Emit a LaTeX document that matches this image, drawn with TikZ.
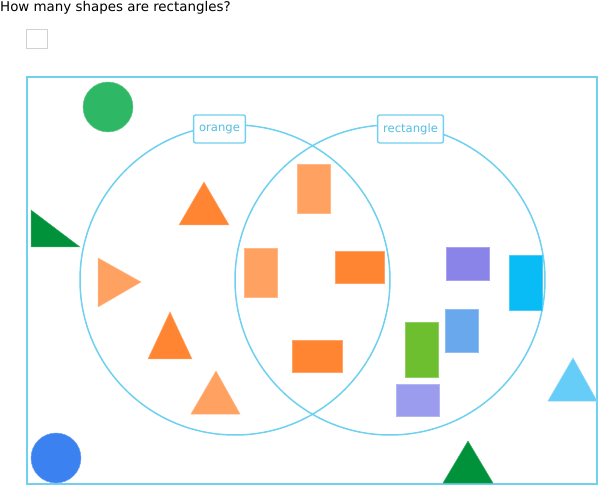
\documentclass[tikz,border=0pt]{standalone}
\usepackage{fontspec}
\setmainfont{DejaVu Sans}
\usepackage{xcolor}
\usetikzlibrary{positioning}
\definecolor{vennblue}{RGB}{112,208,240}
\definecolor{labelblue}{RGB}{84,190,226}
\definecolor{orngdark}{RGB}{255,133,51}
\definecolor{ornglight}{RGB}{255,161,96}
\definecolor{grndark}{RGB}{0,146,58}
\definecolor{grnmid}{RGB}{46,184,101}
\definecolor{grnlime}{RGB}{109,191,48}
\definecolor{bluedot}{RGB}{59,130,240}
\definecolor{purpl}{RGB}{138,132,232}
\definecolor{lavndr}{RGB}{156,156,238}
\definecolor{skyrect}{RGB}{10,188,245}
\definecolor{paleblue}{RGB}{106,168,238}
\definecolor{cyantri}{RGB}{102,204,248}

\begin{document}
\begin{tikzpicture}[x=1pt,y=-1pt,
  venn/.style={draw=vennblue,line width=1.5pt},
  setlabel/.style={draw=vennblue,fill=white,rounded corners=2pt,line width=1.4pt,
    text=labelblue,font=\fontsize{11.6}{13}\selectfont,inner xsep=5.5pt,
    minimum height=28pt,anchor=center},
  piece/.style={fill=#1,draw=#1!75!white,line width=0.5pt}]
  \useasboundingbox (0,0) rectangle (600,486);
  % question and answer box
  \node[anchor=base west,inner sep=0pt,font=\fontsize{13.4}{15}\selectfont]
    (question) at (0,12) {How many shapes are rectangles?};
  \node[draw=gray!35,line width=0.8pt,minimum width=21pt,minimum height=19pt,
    inner sep=0pt] (answer) at (37,38.5) {};
  % frame and sets
  \draw[vennblue,line width=2pt] (27,77) rectangle (597,484);
  \draw[venn] (235,280) circle (155);
  \draw[venn] (390,280) circle (155);
  \node[setlabel] (orange) at (219.5,129) {orange};
  \node[setlabel] (rect) at (410.5,129) {rectangle};
  % outside shapes
  \fill[piece=grnmid] (108,107) circle (25);
  \fill[piece=bluedot] (56,458) circle (25);
  \fill[piece=grndark] (31,210) -- (31,247) -- (80,247) -- cycle;
  \fill[piece=grndark] (468,441) -- (493,483) -- (443,483) -- cycle;
  \fill[piece=cyantri] (573,358) -- (597,401) -- (548,401) -- cycle;
  % orange only
  \fill[piece=orngdark] (204,182) -- (229,225) -- (179,225) -- cycle;
  \fill[piece=ornglight] (98,258) -- (141,282) -- (98,307) -- cycle;
  \fill[piece=orngdark] (170,312) -- (192,359) -- (148,359) -- cycle;
  \fill[piece=ornglight] (216,371) -- (240,414) -- (191,414) -- cycle;
  % orange rectangles
  \fill[piece=ornglight] (297,164) rectangle (330,213);
  \fill[piece=ornglight] (244,248) rectangle (277,297);
  \fill[piece=orngdark] (335,251) rectangle (384,283);
  \fill[piece=orngdark] (292,340) rectangle (342,372);
  % rectangles only
  \fill[piece=purpl] (446,247) rectangle (489,280);
  \fill[piece=skyrect] (509,255) rectangle (542,310);
  \fill[piece=paleblue] (445,309) rectangle (478,352);
  \fill[piece=grnlime] (405,322) rectangle (438,377);
  \fill[piece=lavndr] (396,384) rectangle (439,416);
\end{tikzpicture}
\end{document}
